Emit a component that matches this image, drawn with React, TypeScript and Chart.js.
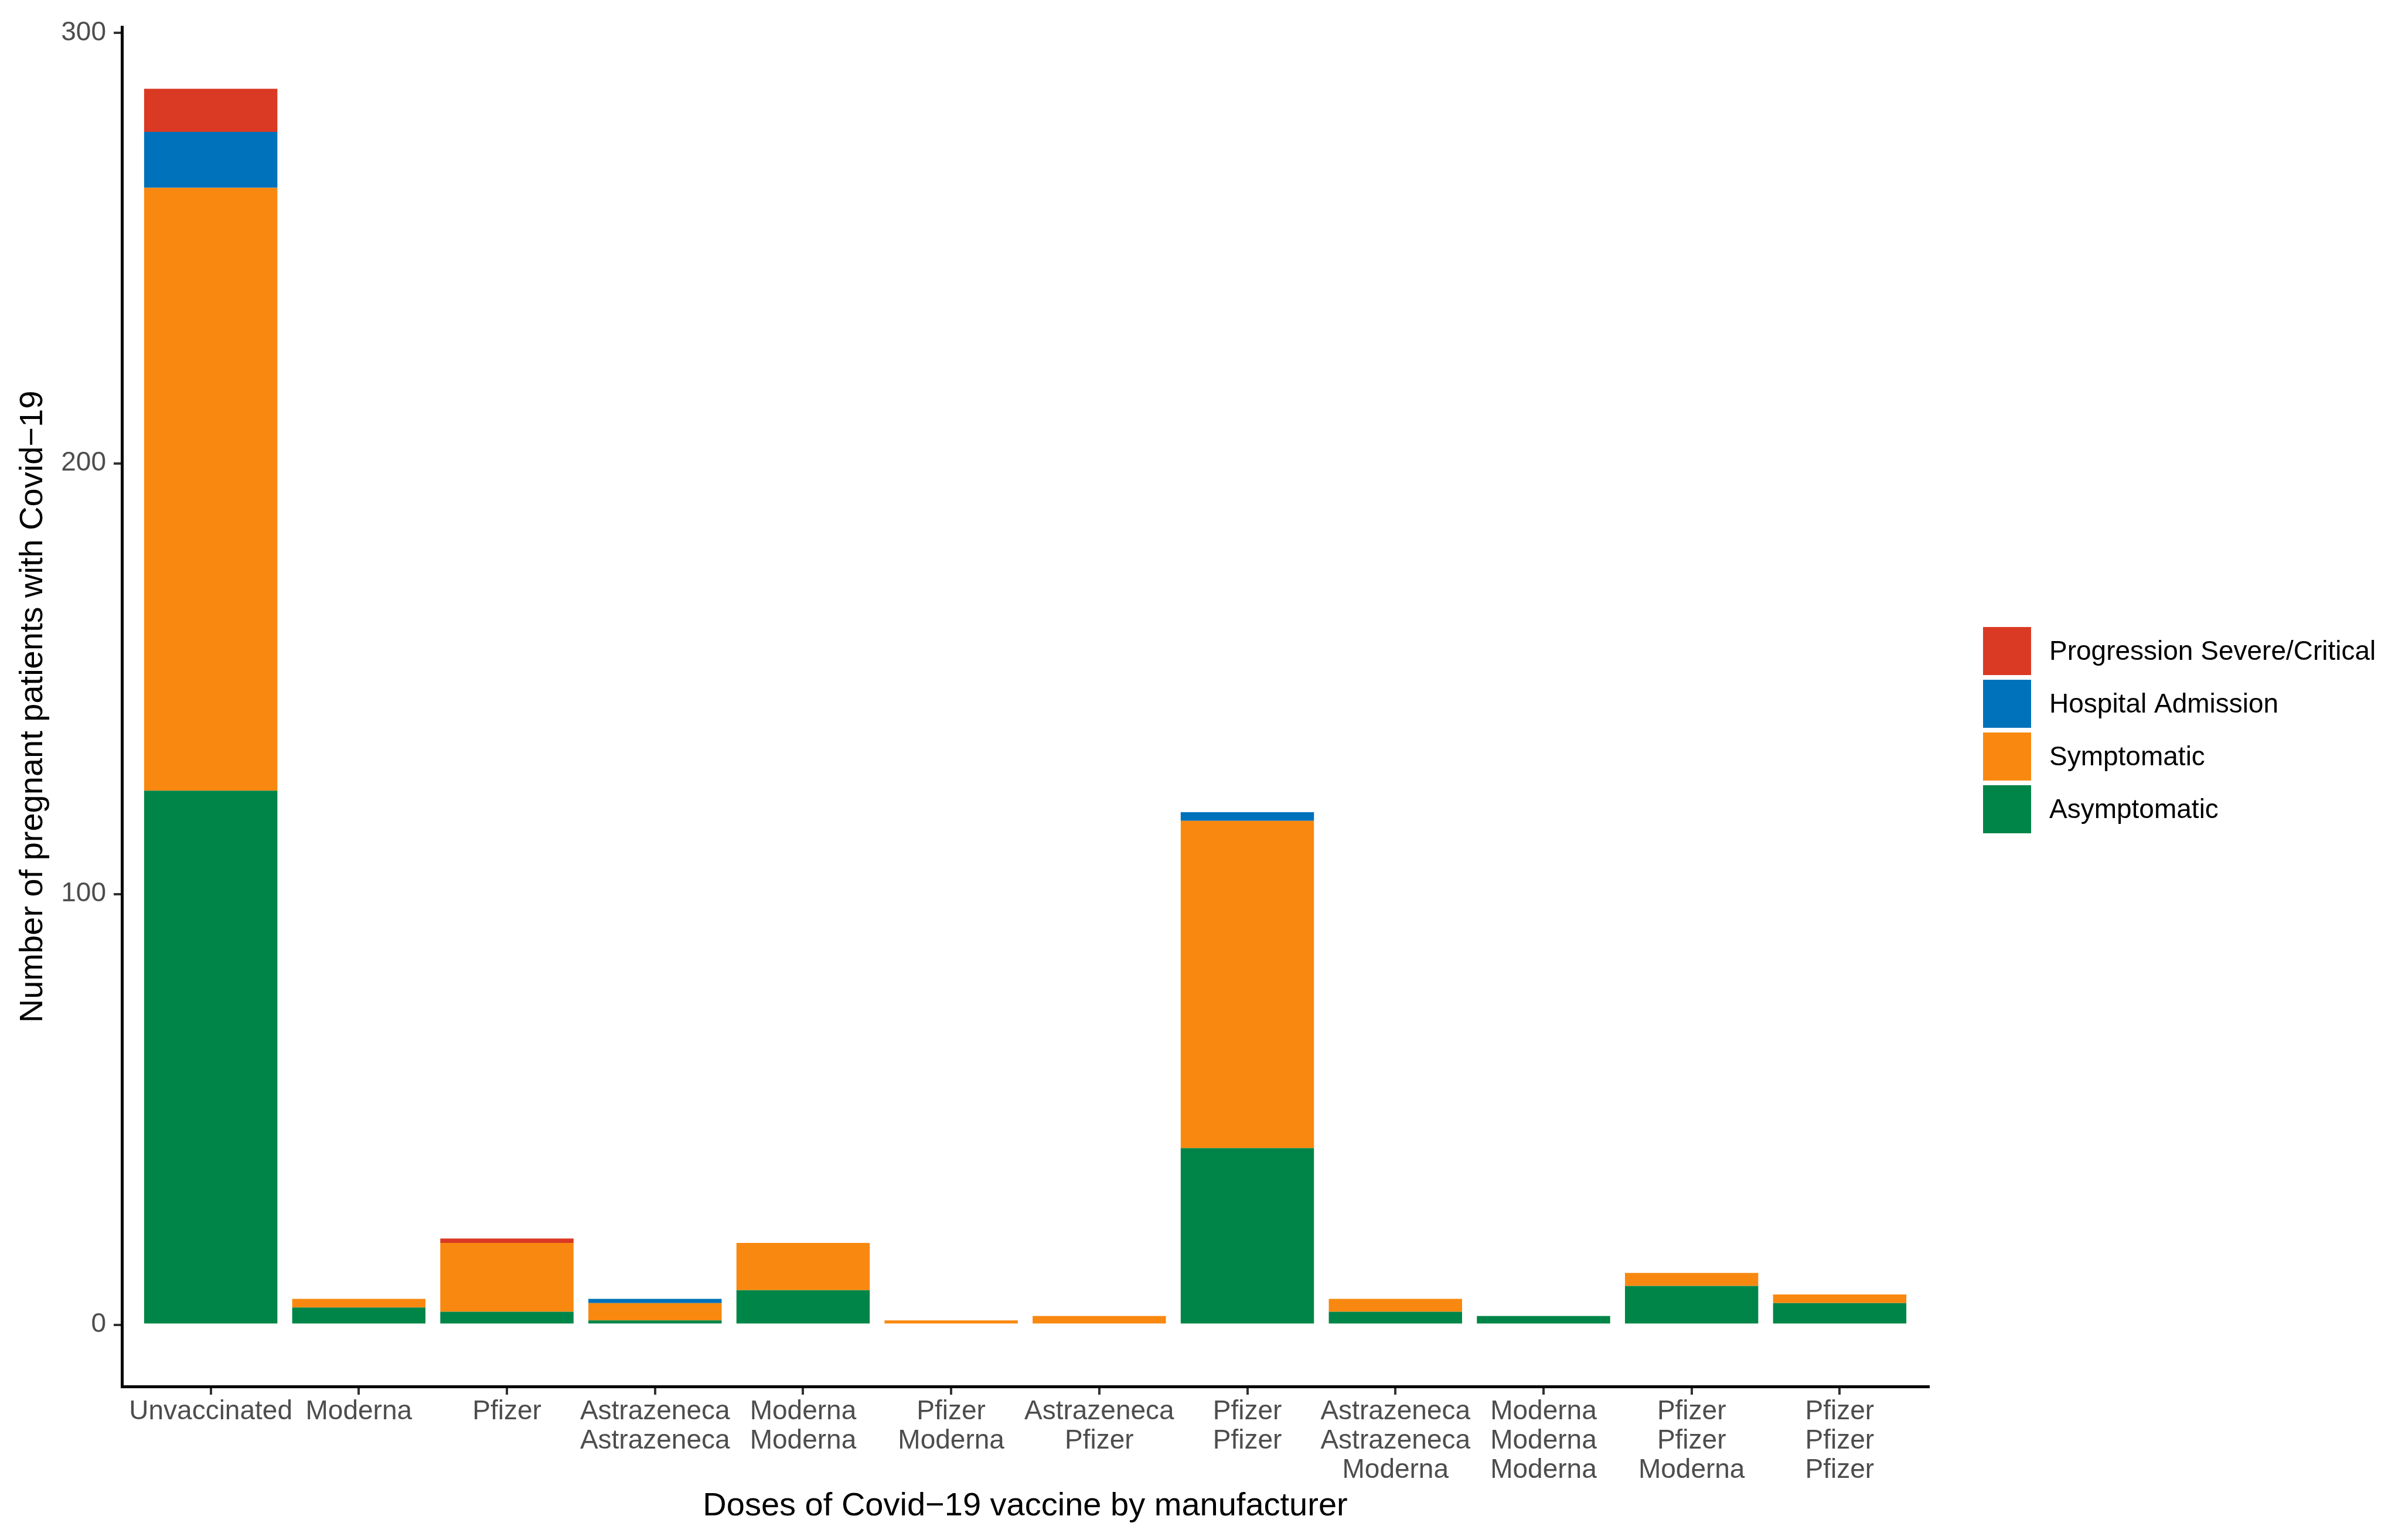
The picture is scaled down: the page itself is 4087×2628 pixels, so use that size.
import React, { useEffect, useRef } from "react";
import { Chart, registerables } from "chart.js";

Chart.register(...registerables);

// ---------- data ----------
const categories: string[][] = [
  ["Unvaccinated"],
  ["Moderna"],
  ["Pfizer"],
  ["Astrazeneca", "Astrazeneca"],
  ["Moderna", "Moderna"],
  ["Pfizer", "Moderna"],
  ["Astrazeneca", "Pfizer"],
  ["Pfizer", "Pfizer"],
  ["Astrazeneca", "Astrazeneca", "Moderna"],
  ["Moderna", "Moderna", "Moderna"],
  ["Pfizer", "Pfizer", "Moderna"],
  ["Pfizer", "Pfizer", "Pfizer"],
];
const asymptomatic = [124, 4, 3, 1, 8, 0, 0, 41, 3, 2, 9, 5];
const symptomatic = [140, 2, 16, 4, 11, 1, 2, 76, 3, 0, 3, 2];
const hospitalAdmission = [13, 0, 0, 1, 0, 0, 0, 2, 0, 0, 0, 0];
const severeCritical = [10, 0, 1, 0, 0, 0, 0, 0, 0, 0, 0, 0];
const seriesNames = ["Asymptomatic", "Symptomatic", "Hospital Admission", "Progression Severe/Critical"];
const seriesColors = ["#008548", "#F98810", "#0072BB", "#DA3923"];
const yTicks = [0, 100, 200, 300];
const xTitle = "Doses of Covid\u221219 vaccine by manufacturer";
const yTitle = "Number of pregnant patients with Covid\u221219";

// ---------- layout / style ----------
const W = 4087;
const H = 2628;
const AREA_LEFT = 208;
const AREA_RIGHT = 3291;
const AREA_TOP = 46;
const AREA_BOTTOM = 2366;
const FONT = '"Liberation Sans", Arial, Helvetica, sans-serif';
const TEXT_SIZE = 46;
const TITLE_SIZE = 56;
const LEGEND_X = 3384;
const LEGEND_TOP = 1070;
const LEGEND_PITCH = 90;
const LEGEND_KEY = 82;

const seriesValues = [asymptomatic, symptomatic, hospitalAdmission, severeCritical];

const legendPlugin = {
  id: "sideLegend",
  afterDraw(chart: any) {
    const ctx = chart.ctx;
    const ds = chart.data.datasets;
    ctx.save();
    ctx.font = `${TEXT_SIZE}px ${FONT}`;
    ctx.textBaseline = "middle";
    ctx.textAlign = "left";
    const order = ds.map((_: any, i: number) => i).reverse();
    order.forEach((di: number, k: number) => {
      const y = LEGEND_TOP + k * LEGEND_PITCH;
      ctx.fillStyle = ds[di].backgroundColor;
      ctx.fillRect(LEGEND_X, y, LEGEND_KEY, LEGEND_KEY);
      ctx.fillStyle = "#000000";
      ctx.fillText(ds[di].label, LEGEND_X + LEGEND_KEY + 31, y + LEGEND_KEY / 2 + 2);
    });
    ctx.restore();
  },
};

export default function App() {
  const ref = useRef<HTMLCanvasElement | null>(null);

  useEffect(() => {
    document.body.style.margin = "0";
    if (!ref.current) return;
    const totals = categories.map((_, i) => seriesValues.reduce((s, arr) => s + arr[i], 0));
    const maxTotal = Math.max(...totals);
    const yMin = -0.05 * maxTotal;
    const yMax = maxTotal * 1.05;

    const tickGrid = {
      display: true,
      drawOnChartArea: false,
      drawTicks: true,
      tickLength: 14,
      color: "#333333",
      lineWidth: 4,
      offset: false,
    };
    const border = { display: true, color: "#000000", width: 5 };

    const chart = new Chart(ref.current, {
      type: "bar",
      data: {
        datasets: seriesNames.map((name, si) => ({
          label: name,
          data: seriesValues[si].map((v, i) => ({ x: i, y: v })),
          backgroundColor: seriesColors[si],
          borderWidth: 0,
          barPercentage: 0.9,
          categoryPercentage: 1,
        })),
      },
      options: {
        responsive: false,
        devicePixelRatio: 1,
        animation: false,
        layout: { padding: { left: 0, right: W - AREA_RIGHT, top: AREA_TOP, bottom: 0 } },
        plugins: { legend: { display: false }, tooltip: { enabled: false } },
        scales: {
          x: {
            type: "linear",
            stacked: true,
            offset: false,
            min: -0.6,
            max: categories.length - 1 + 0.6,
            afterBuildTicks: (s: any) => {
              s.ticks = categories.map((_, i) => ({ value: i }));
            },
            afterFit: (s: any) => {
              s.height = H - AREA_BOTTOM;
            },
            ticks: {
              autoSkip: false,
              maxRotation: 0,
              minRotation: 0,
              padding: 4,
              color: "#4d4d4d",
              font: { size: TEXT_SIZE, family: FONT, lineHeight: 1.09 },
              callback: (v: any) => categories[Math.round(Number(v))] ?? "",
            },
            grid: tickGrid,
            border,
            title: {
              display: true,
              text: xTitle,
              color: "#000000",
              font: { size: TITLE_SIZE, family: FONT, lineHeight: 1.2 },
              padding: { top: 0, bottom: 24 },
            },
          },
          y: {
            type: "linear",
            stacked: true,
            min: yMin,
            max: yMax,
            afterBuildTicks: (s: any) => {
              s.ticks = yTicks.map((v) => ({ value: v }));
            },
            afterFit: (s: any) => {
              s.width = AREA_LEFT;
            },
            ticks: {
              padding: 13,
              color: "#4d4d4d",
              font: { size: TEXT_SIZE, family: FONT },
            },
            grid: tickGrid,
            border,
            title: {
              display: true,
              text: yTitle,
              color: "#000000",
              font: { size: TITLE_SIZE, family: FONT, lineHeight: 1.2 },
              padding: { top: 23, bottom: 0 },
            },
          },
        },
      } as any,
      plugins: [legendPlugin],
    });
    return () => chart.destroy();
  }, []);

  return (
    <canvas
      ref={ref}
      width={W}
      height={H}
      style={{ display: "block", width: W, height: H, background: "#ffffff" }}
    />
  );
}
